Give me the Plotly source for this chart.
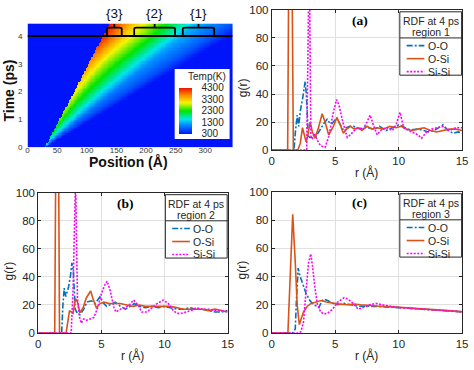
import numpy as np
import plotly.graph_objects as go

W, H = 474, 370
FONT = "Liberation Sans"
SERIF = "Liberation Serif"
TXT = "#262626"

# ---------------- Temperature map ----------------
hm_times = [0, 0.5, 1, 2, 3, 3.5, 4, 4.45]
hot_edge_pos = [30, 42, 54, 79, 103, 115, 128, 139]          # Å, left boundary of heated wedge
hot_edge_temp = [1300, 2200, 2600, 3100, 3600, 3950, 4250, 4300]  # K at that boundary
cool_front_pos = [30, 69, 108, 186, 264, 303, 342, 377]      # Å, where T returns to ambient
profile_frac = [0, 0.17, 0.4, 0.62, 0.85, 1.0]                # relative position inside wedge
profile_level = [1.0, 0.75, 0.5, 0.25, 0.12, 0.0]             # relative temperature
ambient_temp = 300
temp_ticks = [300, 1300, 2300, 3300, 4300]
pos_ticks = [0, 50, 100, 150, 200, 250, 300]
time_ticks = [0, 1, 2, 3, 4]
region_labels = ["{3}", "{2}", "{1}"]
region_start = [134, 180, 262]
region_end = [159, 249, 315]
snapshot_time = 4

# ---------------- RDF data ----------------
r_ticks = [0, 5, 10, 15]
g_ticks = [0, 20, 40, 60, 80, 100]

a_OO_r = [0, 1.75, 1.85, 2.0, 2.12, 2.25, 2.45, 2.63, 2.72, 2.88, 3.0, 3.2, 3.5, 3.75, 4.1, 4.36, 4.6, 4.75, 5.0, 5.13, 5.35, 5.57, 5.85, 6.16, 6.45, 6.7, 7.0, 7.3, 7.7, 8.1, 8.5, 9.0, 9.5, 10.0, 10.3, 10.7, 11.0, 11.5, 12.0, 12.3, 12.8, 13.2, 13.5, 13.9, 14.3, 14.7, 15]
a_OO_g = [0, 0, 12, 25, 17, 28, 38, 49, 40, 10, 9, 9, 10, 14, 19, 22, 19, 19, 22, 23, 19, 15, 16, 17, 17, 16, 15, 16.5, 16, 15, 17, 14, 16, 18, 17, 15, 14.5, 15, 14, 13, 14, 16, 18, 14, 12, 13, 12]

a_OSi_r = [0, 1.25, 1.45, 1.7, 2.05, 2.25, 2.42, 2.58, 2.7, 2.85, 3.02, 3.2, 3.4, 3.65, 3.97, 4.2, 4.48, 4.8, 5.13, 5.4, 5.64, 5.9, 6.2, 6.5, 6.8, 7.1, 7.5, 7.9, 8.3, 8.8, 9.3, 9.8, 10.2, 10.6, 11.0, 11.5, 12.0, 12.5, 13.0, 13.5, 14.0, 14.5, 15]
a_OSi_g = [0, 0, 300, 0, 0, 5, 16, 10, 6, 11, 20, 13, 8.5, 15, 26, 20, 11, 16, 23, 18, 12, 15, 17, 15, 16, 14, 17, 15, 16, 15, 17, 16, 17, 15, 14, 15, 16, 14, 13, 14, 15, 15, 14]

a_SiSi_r = [0, 2.75, 2.95, 3.08, 3.2, 3.35, 3.5, 3.7, 3.9, 4.2, 4.5, 4.8, 5.1, 5.3, 5.6, 5.95, 6.2, 6.5, 6.8, 7.2, 7.5, 7.75, 8.0, 8.3, 8.7, 9.1, 9.5, 9.8, 10.1, 10.4, 10.8, 11.2, 11.5, 11.8, 12.2, 12.6, 13.0, 13.5, 14.0, 14.5, 15]
a_SiSi_g = [0, 0, 140, 10, 8, 12, 9, 5, 3, 2, 10, 25, 36, 32, 20, 9, 11, 14, 16, 15, 20, 25, 18, 11, 15, 16, 14, 18, 27, 16, 14, 12, 11, 8.5, 13, 15, 16, 17, 14, 16, 16]

b_OO_r = [0, 1.85, 1.95, 2.05, 2.18, 2.4, 2.55, 2.66, 2.78, 2.92, 3.1, 3.3, 3.6, 3.85, 4.2, 4.5, 4.9, 5.1, 5.4, 5.8, 6.1, 6.5, 6.9, 7.3, 7.6, 8.0, 8.5, 9.0, 9.5, 10.0, 10.5, 11.0, 11.5, 12.0, 12.5, 13.0, 13.5, 14.0, 14.5, 15]
b_OO_g = [0, 0, 20, 32, 26, 33, 41, 50, 44, 17, 14, 13, 17, 22, 23, 21, 26, 22, 19, 21, 22, 19, 17, 19, 21, 19, 18, 19, 18, 19, 18, 17, 17, 18, 17, 17, 16, 15, 15, 16]

b_OSi_r = [0, 1.3, 1.5, 1.68, 2.2, 2.35, 2.47, 2.6, 2.75, 2.95, 3.1, 3.3, 3.55, 3.8, 4.15, 4.35, 4.6, 4.9, 5.2, 5.6, 6.0, 6.5, 7.0, 7.5, 8.0, 8.5, 9.0, 9.5, 10.0, 10.5, 11.0, 11.5, 12.0, 12.5, 13.0, 13.5, 14.0, 14.5, 15]
b_OSi_g = [0, 0, 300, 0, 0, 8, 16, 15, 14, 24.5, 22, 14.5, 18, 25, 30, 24, 18, 21, 22, 21, 21, 21, 20, 19, 20, 19, 19, 19, 19, 19, 18, 17, 17, 17, 17, 16, 17, 16, 15]

b_SiSi_r = [0, 2.6, 2.75, 2.95, 3.1, 3.25, 3.4, 3.6, 3.8, 4.1, 4.4, 4.7, 5.0, 5.25, 5.45, 5.7, 6.0, 6.15, 6.5, 6.9, 7.2, 7.55, 7.9, 8.2, 8.6, 9.0, 9.4, 9.9, 10.3, 10.7, 11.0, 11.3, 11.7, 12.1, 12.5, 13.0, 13.5, 14.0, 14.5, 15]
b_SiSi_g = [0, 0, 30, 110, 25, 12, 7, 10, 9, 10, 11, 18, 28, 34, 37, 30, 18, 15, 17, 18, 20, 23.5, 20, 15, 15, 18, 21, 23.5, 21, 16, 14, 14, 15, 16, 18, 17, 17, 16, 16, 15]

c_OO_r = [0, 1.6, 1.75, 1.85, 1.95, 2.08, 2.2, 2.4, 2.7, 3.0, 3.3, 3.55, 3.72, 3.9, 4.08, 4.4, 4.8, 5.2, 5.7, 6.2, 6.8, 7.5, 8.2, 9.0, 10.0, 11.0, 12.0, 13.0, 14.0, 15]
c_OO_g = [0, 0, 1, 3, 25, 46, 41, 36, 28, 23, 20, 19, 18, 22, 24, 23, 21, 20, 21, 20, 19, 19, 19, 18.5, 18, 17.5, 17, 16.5, 16, 15]

c_OSi_r = [0, 1.27, 1.45, 1.65, 1.85, 2.0, 2.17, 2.3, 2.5, 2.8, 3.1, 3.5, 3.9, 4.3, 4.8, 5.3, 6.0, 6.5, 7.0, 7.5, 8.5, 9.5, 10.5, 11.5, 12.5, 13.5, 14.5, 15]
c_OSi_g = [0, 0, 40, 84, 50, 20, 6, 10, 15, 19, 21, 22, 23, 22, 21, 20.5, 20, 20.5, 20, 19.5, 19, 18.5, 18, 17.5, 17, 16, 15.5, 15]

c_SiSi_r = [0, 2.1, 2.3, 2.5, 2.7, 2.9, 3.07, 3.2, 3.4, 3.6, 3.85, 4.1, 4.4, 4.8, 5.2, 5.7, 6.0, 6.4, 6.8, 7.2, 7.7, 8.2, 8.7, 9.3, 10, 11, 12, 13, 14, 15]
c_SiSi_g = [0, 0, 1, 8, 30, 50, 56, 48, 32, 20, 15, 13.5, 14, 17, 22, 25, 24, 21, 17, 18, 20, 21, 20, 19, 18, 17.5, 17, 16.5, 15.5, 15]

series_names = ["O-O", "O-Si", "Si-Si"]
series_colors = ["#0072BD", "#D95319", "#FF00FF"]
series_dash = ["6px,2px,2px,2px", "solid", "2px,1.5px"]

panels = [
    # label, region, axis suffix, data, (left, right, top, bottom) px
    ("(a)", 1, "2", [(a_OO_r, a_OO_g), (a_OSi_r, a_OSi_g), (a_SiSi_r, a_SiSi_g)], (274, 468, 4, 149)),
    ("(b)", 2, "3", [(b_OO_r, b_OO_g), (b_OSi_r, b_OSi_g), (b_SiSi_r, b_SiSi_g)], (36, 229, 193, 338)),
    ("(c)", 3, "4", [(c_OO_r, c_OO_g), (c_OSi_r, c_OSi_g), (c_SiSi_r, c_SiSi_g)], (274, 468, 192, 338)),
]


def px(x):
    return x / W


def py(y):
    return 1 - y / H


annotations = []
shapes = []


def ann(text, xp, yp, size, family=FONT, color=TXT, xanchor="center", angle=0, xref="paper", xval=None):
    annotations.append(dict(
        text=text, x=(xval if xval is not None else px(xp)), y=py(yp), xref=xref, yref="paper",
        xanchor=xanchor, yanchor="middle", showarrow=False, textangle=angle,
        font=dict(size=size, family=family, color=color)))


fig = go.Figure()

# ---------------- heat map ----------------
xs = np.arange(1.0, 349.0, 2.0)
ts = np.arange(0.025, 4.45, 0.05)
z = np.full((len(ts), len(xs)), float(ambient_temp))
for i, t in enumerate(ts):
    L = np.interp(t, hm_times, hot_edge_pos)
    R = np.interp(t, hm_times, cool_front_pos)
    Tl = np.interp(t, hm_times, hot_edge_temp)
    s = (xs - L) / max(R - L, 1e-6)
    inside = (s >= 0) & (s <= 1)
    z[i, inside] = ambient_temp + (Tl - ambient_temp) * np.interp(s[inside], profile_frac, profile_level)

cscale = [
    [0.0, "rgb(0,20,250)"],
    [0.2, "rgb(0,140,255)"],
    [0.32, "rgb(0,230,235)"],
    [0.5, "rgb(0,230,0)"],
    [0.68, "rgb(245,245,0)"],
    [0.84, "rgb(255,140,0)"],
    [1.0, "rgb(235,20,0)"],
]

HM = (25, 234, 18, 146)
fig.add_trace(go.Heatmap(
    x=xs, y=ts, z=z, zmin=temp_ticks[0], zmax=temp_ticks[-1], colorscale=cscale,
    xaxis="x", yaxis="y", hoverinfo="skip",
    colorbar=dict(
        x=px(179.5), xanchor="left", y=py(132), yanchor="bottom",
        len=46, lenmode="pixels", thickness=12.5, thicknessmode="pixels",
        tickvals=temp_ticks, ticks="outside", ticklen=8, tickcolor="rgba(0,0,0,0)",
        tickfont=dict(size=10, family=FONT, color=TXT), outlinewidth=0,
        xpad=0, ypad=0, bgcolor="rgba(0,0,0,0)",
    ),
))

# white box behind colorbar
shapes.append(dict(type="rect", xref="paper", yref="paper", x0=px(175), x1=px(231),
                   y0=py(137.5), y1=py(65), fillcolor="white", line=dict(width=0), layer="above"))
ann("Temp(K)", 208, 72.5, 10)

# snapshot line
shapes.append(dict(type="line", xref="x", yref="y", x0=0, x1=346, y0=snapshot_time, y1=snapshot_time,
                   line=dict(color="black", width=2), layer="above"))
# braces
yb, ytop, ytip, rx, ry = snapshot_time, 4.30, 4.43, 4, 0.05
for lab, x0, x1 in zip(region_labels, region_start, region_end):
    mid = (x0 + x1) / 2
    path = (f"M {x0},{yb} L {x0},{ytop - ry} Q {x0},{ytop} {x0 + rx},{ytop} "
            f"L {x1 - rx},{ytop} Q {x1},{ytop} {x1},{ytop - ry} L {x1},{yb} "
            f"M {mid},{ytop} L {mid},{ytip}")
    shapes.append(dict(type="path", xref="x", yref="y", path=path,
                       line=dict(color="black", width=1.8), layer="above"))
    ann(lab, None, 7.5, 13.5, color="#111", xref="x", xval=mid)

ann("<b>Position (Å)</b>", 128, 161, 14, color="#111")
ann("<b>Time (ps)</b>", 6.5, 87, 14, color="#111", angle=-90)

layout_axes = {}
layout_axes["xaxis"] = dict(domain=[px(HM[0]), px(HM[1])], range=[0, 346], anchor="y",
                            tickvals=pos_ticks, showgrid=False, zeroline=False, showline=False,
                            ticks="", tickfont=dict(size=8, family=FONT, color="#333"),
                            ticklabelstandoff=-3)
layout_axes["yaxis"] = dict(domain=[py(HM[3]), py(HM[2])], range=[0, 4.45], anchor="x",
                            tickvals=time_ticks, showgrid=False, zeroline=False, showline=False,
                            ticks="", tickfont=dict(size=8, family=FONT, color="#333"),
                            ticklabelstandoff=4)

# ---------------- RDF panels ----------------
for plabel, region, sfx, data, (l, r, t, b) in panels:
    for (rr, gg), name, col, dash in zip(data, series_names, series_colors, series_dash):
        fig.add_trace(go.Scatter(x=rr, y=gg, mode="lines", name=name, showlegend=False,
                                 line=dict(color=col, width=1.6, dash=dash),
                                 xaxis="x" + sfx, yaxis="y" + sfx))
    common = dict(showgrid=True, gridcolor="#e0e0e0", gridwidth=1, zeroline=False,
                  showline=True, linecolor=TXT, linewidth=1, mirror="ticks",
                  ticks="inside", ticklen=3, tickcolor=TXT,
                  tickfont=dict(size=11.5, family=FONT, color=TXT))
    layout_axes["xaxis" + sfx] = dict(common, domain=[px(l), px(r)], range=[0, 15], anchor="y" + sfx,
                                      tickvals=r_ticks)
    layout_axes["yaxis" + sfx] = dict(common, domain=[py(b), py(t)], range=[0, 100], anchor="x" + sfx,
                                      tickvals=g_ticks)
    ann("r (Å)", (l + r) / 2, b + 23, 12)
    ann("g(r)", l - 30, (t + b) / 2 + 8, 12, angle=-90)
    ann("<b>" + plabel + "</b>", r - 104.5, t + 11.5, 13.5, family=SERIF, color="black")
    # legend box
    bx0, bx1, by0, by1 = r - 63.5, r - 0.5, t + 2, t + 67.5
    shapes.append(dict(type="rect", xref="paper", yref="paper", x0=px(bx0), x1=px(bx1), y0=py(by1), y1=py(by0),
                       fillcolor="white", line=dict(color=TXT, width=1), layer="above"))
    shapes.append(dict(type="line", xref="paper", yref="paper", x0=px(bx0), x1=px(bx1),
                       y0=py(t + 29), y1=py(t + 29), line=dict(color=TXT, width=1), layer="above"))
    ann("RDF at 4 ps", (bx0 + bx1) / 2, t + 12, 10.5)
    ann(f"region {region}", (bx0 + bx1) / 2, t + 22.5, 10.5)
    for k, (name, col, dash) in enumerate(zip(series_names, series_colors, series_dash)):
        yy = t + 37 + 13.4 * k
        shapes.append(dict(type="line", xref="paper", yref="paper", x0=px(bx0 + 7), x1=px(bx0 + 25),
                           y0=py(yy), y1=py(yy), line=dict(color=col, width=1.6, dash=dash), layer="above"))
        ann(name, bx0 + 26.5, yy, 10.5, xanchor="left")

fig.update_layout(
    width=W, height=H, margin=dict(l=0, r=0, t=0, b=0),
    paper_bgcolor="white", plot_bgcolor="white", showlegend=False,
    shapes=shapes, annotations=annotations, **layout_axes,
)

fig.write_html("out.html", config={"displayModeBar": False},
               post_script="document.body.style.margin='0px';")
